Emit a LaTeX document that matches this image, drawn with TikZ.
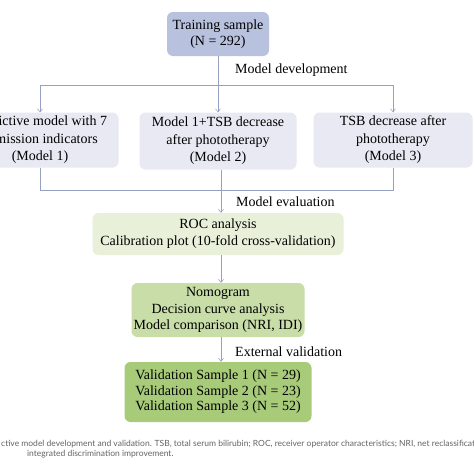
\documentclass[tikz,border=0pt]{standalone}
\usepackage{fontspec}
\setmainfont{Liberation Serif}
\newfontfamily\capfont{Lato}
\usetikzlibrary{arrows.meta}
\definecolor{linec}{RGB}{150,160,192}
\definecolor{trainc}{RGB}{184,194,222}
\definecolor{modc}{RGB}{232,233,242}
\definecolor{rocc}{RGB}{232,240,218}
\definecolor{nomoc}{RGB}{200,221,168}
\definecolor{valc}{RGB}{168,203,122}
\definecolor{capc}{RGB}{100,100,100}
\begin{document}
\begin{tikzpicture}[x=1pt,y=-1pt,
  box/.style={rounded corners=6pt, inner sep=0pt, align=center, font=\fontsize{14}{16.5}\selectfont},
  conn/.style={draw=linec, line width=0.6pt},
  arr/.style={conn, -{Straight Barb[length=3pt,width=5pt]}},
  lab/.style={anchor=west, inner sep=0pt, font=\fontsize{14}{16}\selectfont},
  captxt/.style={anchor=west, inner sep=0pt, text=capc, font=\capfont\fontsize{8.5}{9.5}\selectfont}]
\useasboundingbox (0,0) rectangle (474,474);
\clip (0,0) rectangle (474,474);
\fill[white] (0,0) rectangle (474,474);
% boxes
\node[box, fill=trainc, minimum width=102pt, minimum height=44pt, font=\fontsize{14}{16}\selectfont] (train) at (218,34) {Training sample\\(N = 292)};
\node[box, fill=modc, minimum width=157pt, minimum height=55pt, font=\fontsize{14}{17.5}\selectfont] (m1) at (40,140) {Predictive model with 7\\admission indicators\\(Model 1)};
\node[box, fill=modc, minimum width=157pt, minimum height=57pt, font=\fontsize{14}{17.5}\selectfont] (m2) at (218,141) {Model 1+TSB decrease\\after phototherapy\\(Model 2)};
\node[box, fill=modc, minimum width=159pt, minimum height=55pt, font=\fontsize{14}{17.5}\selectfont] (m3) at (393,140) {TSB decrease after\\phototherapy\\(Model 3)};
\node[box, fill=rocc, minimum width=251pt, minimum height=42pt, font=\fontsize{14}{17}\selectfont] (roc) at (218,234) {ROC analysis\\Calibration plot (10-fold cross-validation)};
\node[box, fill=nomoc, minimum width=173pt, minimum height=54pt] (nomo) at (218,310) {Nomogram\\Decision curve analysis\\Model comparison (NRI, IDI)};
\node[box, fill=valc, minimum width=187pt, minimum height=60pt, align=left, font=\fontsize{14}{15.5}\selectfont] (val) at (218,392) {Validation Sample 1 (N = 29)\\Validation Sample 2 (N = 23)\\Validation Sample 3 (N = 52)};
% coordinates
\coordinate (ht) at (0,85);
\coordinate (hb) at (0,190);
\coordinate (tr) at (221,0);
% connectors
\draw[arr] (train.south) -- (m2.north);
\draw[conn] (m1.north |- ht) -- (m3.north |- ht);
\draw[arr] (m1.north |- ht) -- (m1.north);
\draw[arr] (m3.north |- ht) -- (m3.north);
\draw[conn] (m1.south) -- (m1.south |- hb) -- (m3.south |- hb) -- (m3.south);
\draw[arr] (m2.south -| tr) -- (roc.north -| tr);
\draw[arr] (roc.south -| tr) -- (nomo.north -| tr);
\draw[arr] (nomo.south -| tr) -- (val.north -| tr);
% labels
\node[lab] (l1) at (235,70) {Model development};
\node[lab] (l2) at (236,202) {Model evaluation};
\node[lab] (l3) at (235,352) {External validation};
% caption
\node[captxt] (c1) at (1,444) {ctive model development and validation. TSB, total serum bilirubin; ROC, receiver operator characteristics; NRI, net reclassification improvement;};
\node[captxt] (c2) at (27,454) {integrated discrimination improvement.};
\end{tikzpicture}
\end{document}
